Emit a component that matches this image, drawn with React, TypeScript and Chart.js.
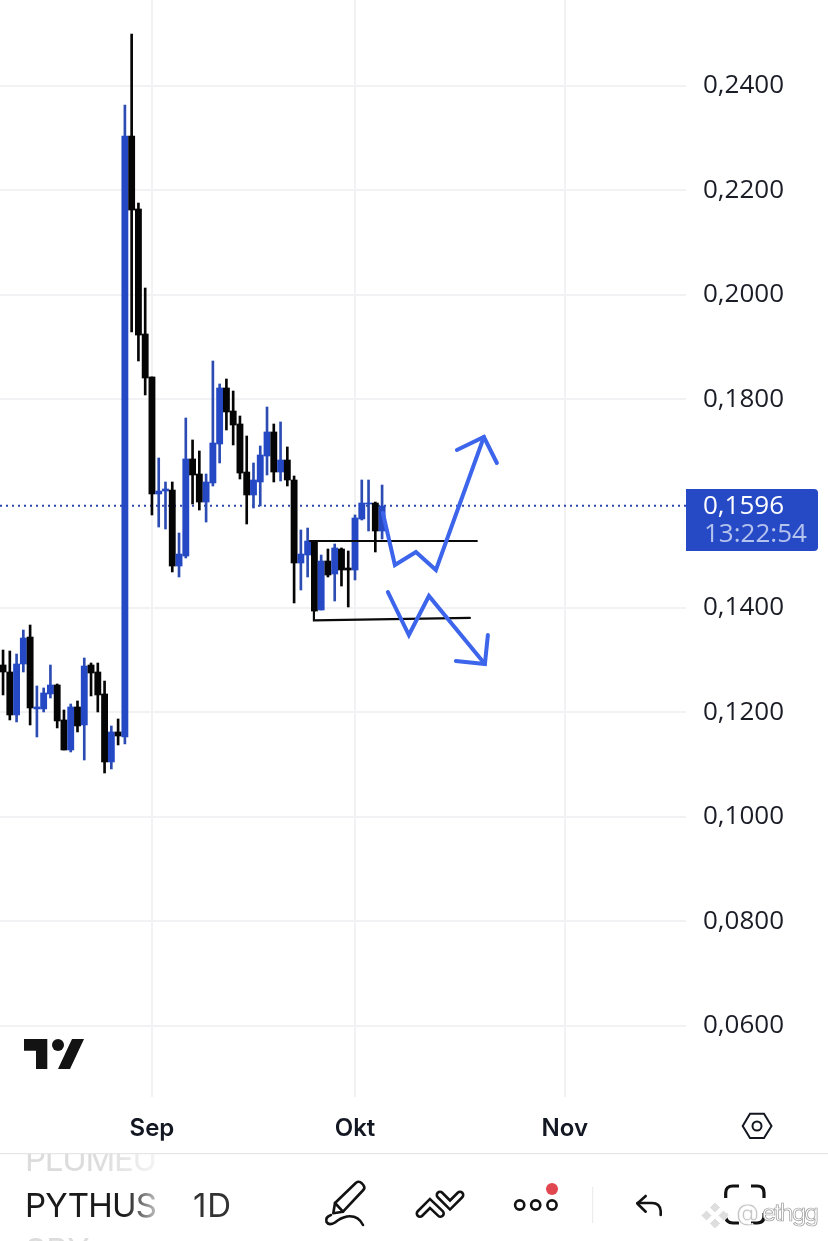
import React, { useEffect, useRef } from "react";
import { Chart, registerables } from "chart.js";

Chart.register(...registerables);

// Days counted from 1 Sep
const days = [-22,-21,-20,-19,-18,-17,-16,-15,-14,-13,-12,-11,-10,-9,-8,-7,-6,-5,-4,-3,-2,-1,0,1,2,3,4,5,6,7,8,9,10,11,12,13,14,15,16,17,18,19,20,21,22,23,24,25,26,27,28,29,30,31,32,33,34];
const opens = [.12908,.12774,.11951,.12927,.13444,.12066,.12066,.12353,.12525,.11855,.1128,.12104,.11759,.12908,.12774,.12353,.1105,.11625,.11529,.23041,.21644,.19249,.18426,.16184,.16241,.1626,.14804,.14996,.16855,.16567,.1603,.16395,.17142,.18215,.17774,.17525,.16605,.16165,.16414,.16912,.17372,.16605,.16835,.16452,.14862,.15015,.15283,.13962,.149,.14651,.1513,.14766,.14728,.15705,.15992,.16011,.15475];
const highs = [.13195,.13176,.13118,.13578,.13674,.12506,.12468,.12908,.12544,.12046,.12161,.12219,.13042,.12946,.12946,.12601,.1174,.11874,.23635,.24996,.21758,.2013,.18426,.16874,.16414,.16414,.15437,.1764,.17219,.17008,.16567,.18732,.18292,.18387,.18157,.17678,.17295,.16778,.17104,.17851,.17525,.17564,.17085,.16529,.15494,.15532,.15283,.15015,.1513,.15226,.1515,.15092,.15782,.16452,.16452,.1603,.16356];
const lows = [.12334,.11855,.11817,.12774,.11759,.11529,.12008,.12276,.11702,.1128,.11242,.11625,.11088,.12315,.12008,.10839,.10916,.11376,.11395,.19287,.18732,.18081,.15782,.15551,.15513,.1469,.14594,.14958,.15992,.15877,.15647,.16337,.16778,.1741,.17123,.16471,.15609,.15916,.15954,.16548,.16414,.16433,.16337,.14096,.14345,.14594,.13942,.13962,.14594,.14134,.14421,.14019,.14537,.15686,.15475,.15073,.15322];
const closes = [.12774,.11951,.12927,.13425,.12085,.12104,.12372,.12525,.11836,.1128,.12104,.1174,.12889,.12755,.12334,.1105,.11625,.11548,.23041,.21624,.19229,.18406,.16184,.16241,.1628,.14804,.15034,.16855,.16548,.1603,.16414,.17161,.18215,.17755,.17506,.16586,.16165,.16452,.16931,.17372,.16605,.16835,.16452,.14862,.15034,.15283,.13942,.149,.14632,.1515,.14728,.14728,.15724,.16011,.16011,.15475,.15954];

const yTicks = [0.06,0.08,0.1,0.12,0.14,0.18,0.2,0.22,0.24];
const monthDays = [0,30,61];
const monthLabels = ["Sep","Okt","Nov"];
const xRange = [-22.45,78.9];
const yRange = [0.04632,0.256475];
const lastPrice = 0.1596;
const countdown = "13:22:54";

const upPathX = [34.12,35.89,39,41.95,49.04];
const upPathY = [.1582,.14824,.15073,.14728,.17276];
const upHeadX = [45.05,49.04,50.96];
const upHeadY = [.17027,.17276,.16778];
const downPathX = [34.86,37.96,40.92,49.19];
const downPathY = [.14306,.13482,.1423,.12927];
const downHeadX = [49.63,49.19,44.9];
const downHeadY = [.13482,.12927,.12985];
const resistX = [23.34,48];
const resistY = [.15283,.15283];
const supportX = [23.93,23.93,46.97];
const supportY = [.13942,.13761,.13809];

const toPts = (xs: number[], ys: number[]) => xs.map((x, i) => ({ x, y: ys[i] }));
const fmt = (v: number) => v.toFixed(4).replace(".", ",");

const FONT = "Inter, 'Noto Sans', sans-serif";
const NUM_FONT = "'Open Sans', 'Noto Sans', sans-serif";
const UP = "#2549c5";
const UP_WICK = "#2c4cb3";
const DOWN = "#050505";
const ARROW = "#3c65ec";

function line(xs: number[], ys: number[], color: string, width: number) {
  return {
    type: "line" as const,
    data: toPts(xs, ys),
    borderColor: color,
    borderWidth: width,
    pointRadius: 0,
    tension: 0,
    fill: false,
    order: 0,
    borderCapStyle: "round" as const,
    borderJoinStyle: "miter" as const,
  };
}

export default function App() {
  const ref = useRef<HTMLCanvasElement>(null);
  useEffect(() => {
    const isUp = (i: number) => closes[i] >= opens[i];
    const chart = new Chart(ref.current!, {
      type: "bar",
      data: {
        datasets: [
          line(upPathX, upPathY, ARROW, 4),
          line(upHeadX, upHeadY, ARROW, 4),
          line(downPathX, downPathY, ARROW, 4),
          line(downHeadX, downHeadY, ARROW, 4),
          line(resistX, resistY, "#0a0a0a", 2.2),
          line(supportX, supportY, "#0a0a0a", 2.2),
          {
            type: "line",
            data: toPts(xRange, [lastPrice, lastPrice]),
            borderColor: "#2a46a8",
            borderWidth: 2,
            borderDash: [2, 4],
            pointRadius: 0,
            order: 3,
          },
          {
            type: "bar",
            data: days.map((d, i) => ({ x: d, y: [opens[i], closes[i]] })),
            backgroundColor: days.map((_, i) => (isUp(i) ? UP : DOWN)),
            barThickness: 6.2,
            borderWidth: 0,
            grouped: false,
            order: 1,
          },
          {
            type: "bar",
            data: days.map((d, i) => ({ x: d, y: [lows[i], highs[i]] })),
            backgroundColor: days.map((_, i) => (isUp(i) ? UP_WICK : DOWN)),
            barThickness: 2,
            borderWidth: 0,
            grouped: false,
            order: 2,
          },
        ] as any,
      },
      options: {
        animation: false,
        responsive: false,
        layout: { padding: 0 },
        plugins: { legend: { display: false }, tooltip: { enabled: false }, title: { display: false } },
        scales: {
          x: {
            type: "linear",
            min: xRange[0],
            max: xRange[1],
            offset: false,
            grid: { offset: false, color: "#f2f2f4", lineWidth: 2, drawTicks: false },
            border: { display: false },
            afterBuildTicks: (a: any) => {
              a.ticks = monthDays.map((value) => ({ value }));
            },
            afterFit: (a: any) => {
              a.height = 56;
              a.paddingLeft = 0;
              a.paddingRight = 0;
            },
            ticks: {
              autoSkip: false,
              maxRotation: 0,
              minRotation: 0,
              padding: 17,
              color: "#131722",
              font: { family: FONT, size: 24, weight: "600" },
              callback: (v: any) => monthLabels[monthDays.indexOf(Number(v))] ?? "",
            },
          },
          y: {
            type: "linear",
            position: "right",
            min: yRange[0],
            max: yRange[1],
            grid: { color: "#f2f2f4", lineWidth: 2, drawTicks: false },
            border: { display: false },
            afterBuildTicks: (a: any) => {
              a.ticks = yTicks.map((value) => ({ value }));
            },
            afterFit: (a: any) => {
              a.width = 142;
              a.paddingTop = 0;
              a.paddingBottom = 0;
            },
            ticks: {
              padding: 17,
              color: "#1a1d26",
              font: { family: NUM_FONT, size: 26, weight: "400" },
              callback: (v: any) => fmt(Number(v)),
            },
          },
        },
      } as any,
    });
    return () => chart.destroy();
  }, []);

  return (
    <div style={{ position: "relative", width: 828, height: 1241, overflow: "hidden", background: "#fff" }}>
      <style>{"html,body{margin:0;padding:0;background:#fff}"}</style>
      <canvas ref={ref} width={828} height={1153} style={{ display: "block", position: "absolute", left: 0, top: 0, width: 828, height: 1153 }} />
      <svg width={828} height={1241} style={{ position: "absolute", left: 0, top: 0 }} fontFamily={FONT}>
        <defs>
          <linearGradient id="fade" gradientUnits="userSpaceOnUse" x1="125" x2="158" y1="0" y2="0">
            <stop offset="0" stopColor="#1a1a1a" />
            <stop offset="1" stopColor="#c8c8c8" />
          </linearGradient>
          <linearGradient id="fade2" gradientUnits="userSpaceOnUse" x1="100" x2="158" y1="0" y2="0">
            <stop offset="0" stopColor="#dcdcdc" />
            <stop offset="1" stopColor="#f4f4f4" />
          </linearGradient>
          <clipPath id="listClip"><rect x="0" y="1154" width="828" height="87" /></clipPath>
        </defs>

        {/* price badge */}
        <rect x="686" y="489" width="132" height="62" rx="4" fill="#2649c5" />
        <path d="M686 489h6v62h-6z" fill="#2649c5" />
        <text x="703" y="514" fontSize="26" fontFamily={NUM_FONT} fill="#fff">{fmt(lastPrice)}</text>
        <text x="704" y="542" fontSize="26" fontFamily={NUM_FONT} fill="#b4c2ee">{countdown}</text>

        {/* TradingView logo */}
        <path d="M24 1039H47.3V1069H36V1050.7H24Z" fill="#131313" />
        <circle cx="58" cy="1045" r="6" fill="#131313" />
        <path d="M72 1039H84L70 1069H58Z" fill="#131313" />

        {/* settings hexagon */}
        <g fill="none" stroke="#131722" strokeWidth="2">
          <path d="M742.7 1126L750 1113.7H764L771.5 1126L764 1138H750Z" />
          <circle cx="757" cy="1126" r="4.5" />
        </g>

        <rect x="0" y="1153" width="828" height="1.2" fill="#e6e6e8" />

        {/* symbol list */}
        <g clipPath="url(#listClip)" fontSize="33">
          <text x="25" y="1170.5" fill="url(#fade2)" textLength="132">PLUMEU</text>
          <text x="25" y="1262" fill="#dcdcdc">SPY</text>
        </g>
        <text x="25" y="1217" fontSize="33" fill="url(#fade)" textLength="132">PYTHUS</text>
        <text x="193" y="1217" fontSize="33" fill="#333" textLength="38">1D</text>

        {/* toolbar icons */}
        <g fill="none" stroke="#121212" strokeWidth="2.6" strokeLinecap="round" strokeLinejoin="round">
          <path d="M333.3 1213.3L335 1203L356 1182.7Q359 1180.5 362 1183.5L363.3 1185Q365.5 1188 363.3 1190L343 1211.7Z" />
          <path d="M335 1203L343 1211.7" />
          <path d="M363 1225Q358 1215 347 1216.5Q340 1218 335 1222.5Q329 1226 326.5 1222Q325 1217 331 1215" />
          <circle cx="519.7" cy="1205" r="4.6" />
          <circle cx="535.7" cy="1205" r="4.6" />
          <circle cx="552" cy="1205" r="4.6" />
          <path d="M660.7 1215V1211Q660 1203 652 1203H637.5" />
          <path d="M645.7 1196L637.3 1203.5L645.7 1211.7" />
          <path d="M725.7 1198V1193Q725.7 1186 733 1186H739M751 1186H757Q764 1186 764 1193V1198M725.7 1213V1216Q725.7 1223 733 1223H739M751 1223H757Q764 1223 764 1216V1213" strokeWidth="3.2" strokeLinecap="butt" />
        </g>
        <g fill="none" strokeLinecap="round" strokeLinejoin="miter">
          <path d="M420 1213.5L430 1203.5L440.5 1213.5" stroke="#121212" strokeWidth="9" />
          <path d="M420 1213.5L430 1203.5L440.5 1213.5" stroke="#fff" strokeWidth="3.8" />
          <path d="M440 1195L450 1205L460 1195" stroke="#121212" strokeWidth="9" />
          <path d="M440 1195L450 1205L460 1195" stroke="#fff" strokeWidth="3.8" />
        </g>
        <circle cx="552" cy="1189" r="6" fill="#e0474f" />
        <rect x="592" y="1187" width="1.2" height="36" fill="#ececec" />

        {/* watermark */}
        <g>
          <path d="M715 1202L720.5 1207.5L715 1213L709.5 1207.5Z M706.5 1210L712 1215.5L706.5 1221L701 1215.5Z M723.5 1210L729 1215.5L723.5 1221L718 1215.5Z M715 1218L720.5 1223.5L715 1229L709.5 1223.5Z" fill="#dedede" stroke="#fff" strokeWidth="1" />
          <text x="736" y="1221" fontSize="24" fill="#c4c4c4" stroke="#fff" strokeWidth="0.5" textLength="21">@</text>
          <text x="762" y="1221" fontSize="24" fill="#fff" stroke="#9a9a9a" strokeWidth="0.7" textLength="57">ethgg</text>
        </g>
      </svg>
    </div>
  );
}
